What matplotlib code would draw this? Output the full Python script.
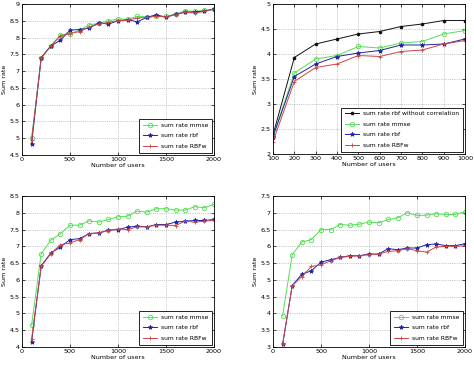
import numpy as np
import matplotlib
matplotlib.use("Agg")
import matplotlib.pyplot as plt

x20 = list(range(100, 2001, 100))
x10 = list(range(100, 1001, 100))

# Panel 1 (top-left)
p1_mmse = [5.0, 7.4, 7.75, 8.08, 8.12, 8.22, 8.38, 8.42, 8.5, 8.55, 8.55, 8.63, 8.62, 8.65, 8.63, 8.7, 8.8, 8.78, 8.82, 8.84]
p1_rbf = [4.83, 7.4, 7.75, 7.92, 8.22, 8.24, 8.28, 8.44, 8.4, 8.5, 8.53, 8.47, 8.6, 8.68, 8.6, 8.7, 8.75, 8.77, 8.78, 8.86]
p1_rbfw = [4.95, 7.38, 7.75, 8.05, 8.12, 8.18, 8.32, 8.4, 8.45, 8.5, 8.52, 8.58, 8.6, 8.63, 8.62, 8.68, 8.76, 8.73, 8.78, 8.84]

# Panel 2 (top-right)
p2_nocorr = [2.38, 3.93, 4.2, 4.3, 4.4, 4.45, 4.55, 4.6, 4.67, 4.67]
p2_mmse = [2.35, 3.62, 3.9, 3.97, 4.15, 4.12, 4.22, 4.25, 4.4, 4.47]
p2_rbf = [2.35, 3.55, 3.8, 3.95, 4.02, 4.07, 4.18, 4.18, 4.2, 4.3]
p2_rbfw = [2.25, 3.45, 3.73, 3.8, 3.97, 3.95, 4.05, 4.08, 4.2, 4.27]

# Panel 3 (bottom-left)
p3_mmse = [4.65, 6.78, 7.18, 7.38, 7.63, 7.63, 7.76, 7.72, 7.8, 7.88, 7.9, 8.05, 8.02, 8.12, 8.12, 8.08, 8.08, 8.18, 8.15, 8.25]
p3_rbf = [4.15, 6.42, 6.8, 6.98, 7.2, 7.23, 7.38, 7.4, 7.48, 7.5, 7.57, 7.6, 7.58, 7.65, 7.65, 7.72, 7.75, 7.77, 7.77, 7.8]
p3_rbfw = [4.25, 6.4, 6.78, 7.05, 7.1, 7.2, 7.38, 7.4, 7.47, 7.52, 7.5, 7.58, 7.58, 7.63, 7.63, 7.62, 7.75, 7.72, 7.75, 7.78]

# Panel 4 (bottom-right)
p4_mmse = [3.93, 5.75, 6.13, 6.2, 6.5, 6.5, 6.65, 6.63, 6.66, 6.72, 6.7, 6.8, 6.85, 7.0, 6.92, 6.93, 6.97, 6.95, 6.95, 7.03]
p4_rbf = [3.08, 4.83, 5.17, 5.27, 5.53, 5.6, 5.67, 5.72, 5.72, 5.77, 5.77, 5.93, 5.9, 5.95, 5.95, 6.05, 6.07, 6.02, 6.02, 6.08]
p4_rbfw = [3.08, 4.82, 5.1, 5.4, 5.45, 5.57, 5.67, 5.7, 5.72, 5.75, 5.77, 5.85, 5.87, 5.93, 5.87, 5.83, 5.98, 6.0, 6.0, 6.02]

lbl_nocorr = "sum rate rbf without correlation"
lbl_mmse = "sum rate mmse"
lbl_rbf = "sum rate rbf"
lbl_rbfw = "sum rate RBFw"

GREEN = "#55dd55"
BLUE = "#2222aa"
RED = "#cc4444"
BLACK = "#111111"

W, H = 474, 366
fig = plt.figure(figsize=(W / 100, H / 100), dpi=100)

def axes_px(l, r, t, b):
    return fig.add_axes([l / W, 1 - b / H, (r - l) / W, (b - t) / H])

FS = 4.6
LFS = 4.3
LW = 0.7
MS = 3.2

def style(ax, xlim, ylim, yticks, xticks):
    ax.set_xlim(*xlim)
    ax.set_ylim(*ylim)
    ax.set_yticks(yticks)
    ax.set_xticks(xticks)
    ax.set_yticklabels([("%g" % v) for v in yticks])
    ax.set_xticklabels([("%g" % v) for v in xticks])
    ax.tick_params(labelsize=FS, length=2, width=0.5, direction="in", pad=1.5, top=True, right=True)
    ax.grid(True, linestyle=":", color="#999999", linewidth=0.5)
    for s in ax.spines.values():
        s.set_linewidth(0.6)
    ax.set_xlabel("Number of users", fontsize=FS, labelpad=1)
    ax.set_ylabel("Sum rate", fontsize=FS, labelpad=2)

def draw3(ax, x, m, r, w):
    ax.plot(x, m, color=GREEN, marker="o", mfc="none", ms=MS, lw=LW, mew=0.6, label=lbl_mmse)
    ax.plot(x, r, color=BLUE, marker="*", ms=MS, lw=LW, mew=0.6, label=lbl_rbf)
    ax.plot(x, w, color=RED, marker="+", ms=MS, lw=LW, mew=0.6, label=lbl_rbfw)

def leg(ax):
    L = ax.legend(loc="lower right", fontsize=LFS, fancybox=False, edgecolor="black",
                  framealpha=1, borderpad=0.6, labelspacing=0.9, handlelength=2.4,
                  handletextpad=0.6, borderaxespad=0.4)
    L.get_frame().set_linewidth(0.6)

ax1 = axes_px(22, 214, 4, 155)
draw3(ax1, x20, p1_mmse, p1_rbf, p1_rbfw)
style(ax1, (0, 2000), (4.5, 9), np.arange(4.5, 9.01, 0.5), [0, 500, 1000, 1500, 2000])
leg(ax1)

ax2 = axes_px(36 + 237, 228 + 237, 4, 154)
ax2.plot(x10, p2_nocorr, color=BLACK, marker=".", ms=MS, lw=LW, label=lbl_nocorr)
draw3(ax2, x10, p2_mmse, p2_rbf, p2_rbfw)
style(ax2, (100, 1000), (2, 5), np.arange(2, 5.01, 0.5), list(range(100, 1001, 100)))
leg(ax2)

ax3 = axes_px(22, 214, 196, 347)
draw3(ax3, x20, p3_mmse, p3_rbf, p3_rbfw)
style(ax3, (0, 2000), (4, 8.5), np.arange(4, 8.51, 0.5), [0, 500, 1000, 1500, 2000])
leg(ax3)

ax4 = axes_px(36 + 237, 228 + 237, 196, 347)
draw3(ax4, x20, p4_mmse, p4_rbf, p4_rbfw)
style(ax4, (0, 2000), (3, 7.5), np.arange(3, 7.51, 0.5), [0, 500, 1000, 1500, 2000])
leg(ax4)

fig.savefig("out.png", dpi=100)
